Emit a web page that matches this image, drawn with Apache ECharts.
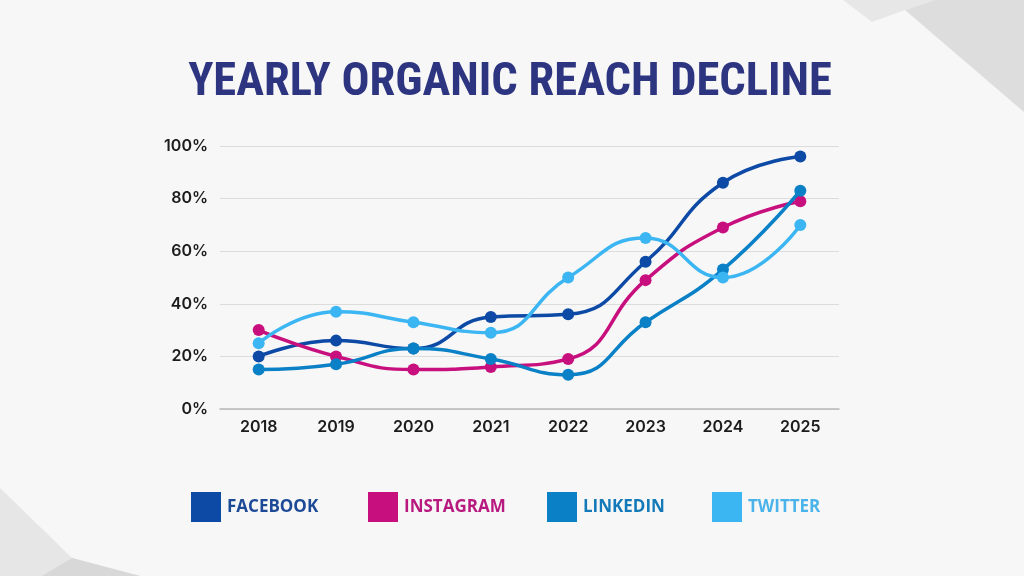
<!DOCTYPE html>
<html>
<head>
<meta charset="utf-8">
<script src="https://cdn.jsdelivr.net/npm/echarts@6/dist/echarts.min.js"></script>
<style>
  html, body { margin: 0; padding: 0; background: #f7f7f7; }
  #chart { width: 1024px; height: 576px; }
</style>
</head>
<body>
<div id="chart"></div>
<script>
// data
var years = ['2018', '2019', '2020', '2021', '2022', '2023', '2024', '2025'];
var facebook = [20, 26, 23, 35, 36, 56, 86, 96];
var instagram = [30, 20, 15, 16, 19, 49, 69, 79];
var linkedin = [15, 17, 23, 19, 13, 33, 53, 83];
var twitter = [25, 37, 33, 29, 50, 65, 50, 70];

var names = ['FACEBOOK', 'INSTAGRAM', 'LINKEDIN', 'TWITTER'];
var colors = ['#0c4aa6', '#c80f7e', '#0a80c6', '#3cb6f3'];
var textColors = ['#1c4a96', '#b8197f', '#1379b8', '#4ab4ea'];
var legendLeft = [186, 363, 542, 707];

var narrow = '"Liberation Sans Narrow", "Roboto Condensed", Roboto, sans-serif';
var axisFont = 'Inter, sans-serif';

var chart = echarts.init(document.getElementById('chart'));

function line(name, data, i) {
  return {
    name: name,
    type: 'line',
    data: data,
    smooth: 0.5,
    symbol: 'circle',
    symbolSize: 12,
    lineStyle: { width: 3.5, color: colors[i] },
    itemStyle: { color: colors[i] },
    z: 3 + i
  };
}

// one legend per item so each can sit where the picture has it
var legends = names.map(function (n, i) {
  return {
    data: [n],
    left: legendLeft[i],
    top: 487,
    icon: 'rect',
    itemWidth: 30,
    itemHeight: 30,
    itemGap: 0,
    textStyle: {
      color: textColors[i],
      fontFamily: '"Open Sans", sans-serif',
      fontWeight: 'bold',
      fontSize: 17,
      padding: [0, 0, 0, 1]
    }
  };
});

chart.setOption({
  backgroundColor: '#f7f7f7',
  animation: false,
  graphic: [
    { type: 'polygon', shape: { points: [[843, 0], [872, 22], [905, 10], [935, 0]] }, style: { fill: '#e7e7e7' }, z: -10 },
    { type: 'polygon', shape: { points: [[905, 10], [935, 0], [1024, 0], [1024, 112]] }, style: { fill: '#dddddd' }, z: -10 },
    { type: 'polygon', shape: { points: [[0, 488], [72, 558], [140, 576], [0, 576]] }, style: { fill: '#e6e6e6' }, z: -10 },
    { type: 'polygon', shape: { points: [[72, 558], [140, 576], [42, 576]] }, style: { fill: '#d8d8d8' }, z: -9 }
  ],
  title: {
    text: 'YEARLY ORGANIC REACH DECLINE',
    left: 505,
    textAlign: 'center',
    top: 55,
    textStyle: {
      color: '#2e3580',
      fontFamily: narrow,
      fontWeight: 'bold',
      fontSize: 46.5
    }
  },
  legend: legends,
  grid: { left: 220, right: 185, top: 146, bottom: 167 },
  xAxis: {
    type: 'category',
    data: years,
    boundaryGap: true,
    axisLine: { lineStyle: { color: '#b8b8b8', width: 1.5 } },
    axisTick: { show: false },
    axisLabel: { color: '#1c1c1c', fontSize: 16, fontFamily: axisFont, fontWeight: 600, margin: 10 }
  },
  yAxis: {
    type: 'value',
    min: 0,
    max: 100,
    interval: 20,
    axisLine: { show: false },
    axisTick: { show: false },
    splitLine: { lineStyle: { color: '#dcdcdc', width: 1 } },
    axisLabel: { formatter: '{value}%', color: '#1c1c1c', fontSize: 16, fontFamily: axisFont, fontWeight: 600, margin: 12 }
  },
  series: [
    line('FACEBOOK', facebook, 0),
    line('INSTAGRAM', instagram, 1),
    line('LINKEDIN', linkedin, 2),
    line('TWITTER', twitter, 3)
  ]
});
</script>
</body>
</html>
